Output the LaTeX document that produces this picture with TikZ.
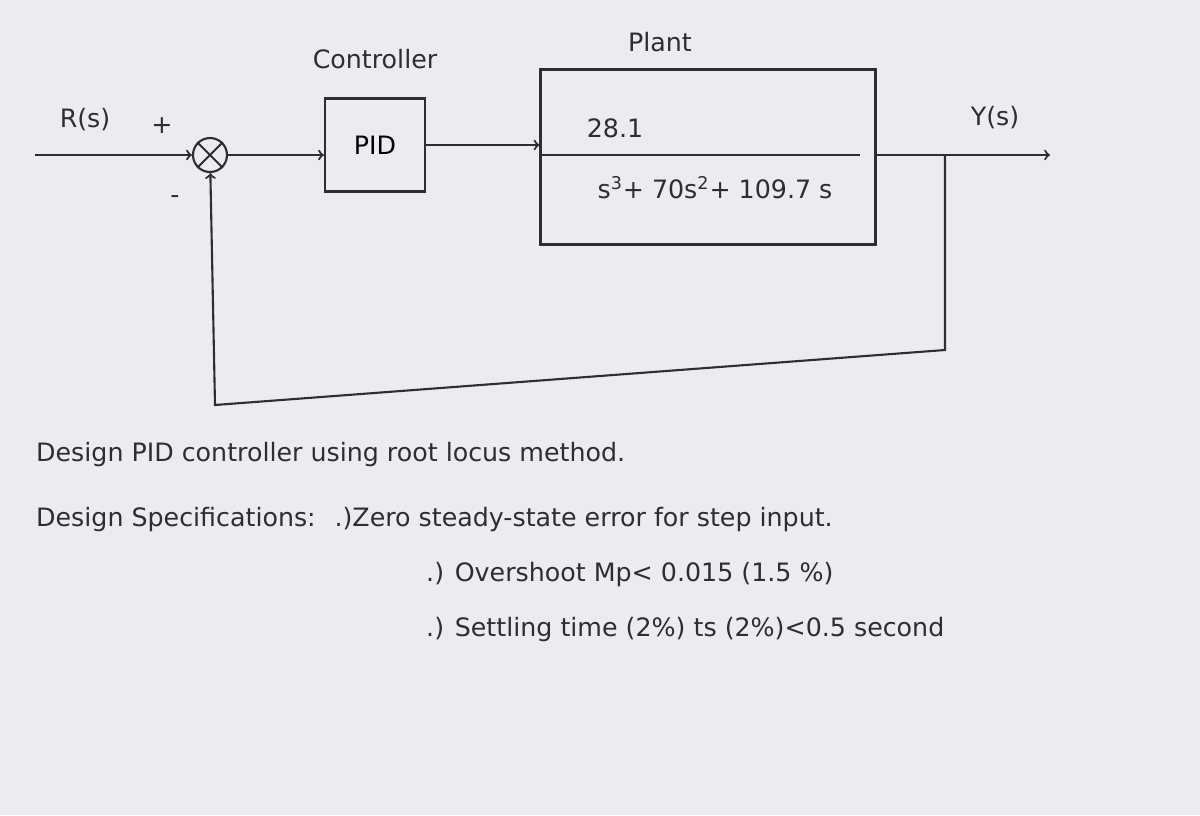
\documentclass[tikz,border=0pt]{standalone}
\usepackage{amsmath}
\usepackage{fontspec}
\setmainfont{DejaVu Sans}
\usetikzlibrary{positioning}
\definecolor{paper}{RGB}{236,236,240}
\definecolor{ink}{RGB}{45,45,50}
\begin{document}
\begin{tikzpicture}[x=0.02cm,y=-0.02cm]
          \tikzstyle{block} = [draw=ink, very thick, inner sep=0pt]
          \tikzstyle{wire} = [draw=ink, very thick, ->]
          \tikzstyle{lbl} = [text=ink, font=\Large]
          \tikzstyle{spec} = [text=ink, font=\Large, anchor=west]
        \fill[paper] (0,0) rectangle (1200,815);
        \useasboundingbox (0,0) rectangle (1200,815);
        \coordinate (in) at (35,155);
        \node[draw=ink, very thick, circle, minimum size=0.68cm, inner sep=0pt] (sum) at (210,155) {};
        \draw[ink, very thick] (sum.north west) -- (sum.south east) (sum.north east) -- (sum.south west);
        \node[block, minimum width=2cm, minimum height=1.86cm] (pid) at (375,145) {\Large PID};
        \node[block, minimum width=6.7cm, minimum height=3.5cm] (plant) at (708,157) {};
        \node[lbl] (num) at (615,128) {28.1};
        \node[lbl] (den) at (715,188) {s\textsuperscript{3}+ 70s\textsuperscript{2}+ 109.7 s};
        \draw[ink, very thick] (540,155) -- (860,155);
        \node[lbl] at (85,120) {R(s)};
        \node[lbl] at (162,126) {+};
        \node[lbl] at (175,200) {-};
        \node[lbl] [above=0.45cm of pid] {Controller};
        \node[lbl] at (660,42) {Plant};
        \node[lbl] at (995,118) {Y(s)};
        \coordinate (out) at (1050,155);
        \coordinate (tap) at (945,155);
        \coordinate (fb1) at (945,350);
        \coordinate (fb2) at (215,405);
        \begin{scope}
          \draw[wire] (in) -- (sum);
          \draw[wire] (sum) -- (sum -| pid.west);
          \draw[wire] (pid) -- (plant.west |- pid);
          \draw[wire] (plant.east |- out) -- (out);
          \draw[wire] (tap) -- (fb1) -- (fb2) -- (sum);
        \end{scope}
        \node[spec] at (30,455) {Design PID controller using root locus method.};
        \node[spec] at (30,520) {Design Specifications: \ .)Zero steady-state error for step input.};
        \node[spec] at (420,575) {.) Overshoot Mp< 0.015 (1.5 \%)};
        \node[spec] at (420,630) {.) Settling time (2\%) ts (2\%)<0.5 second};
      \end{tikzpicture}
\end{document}
